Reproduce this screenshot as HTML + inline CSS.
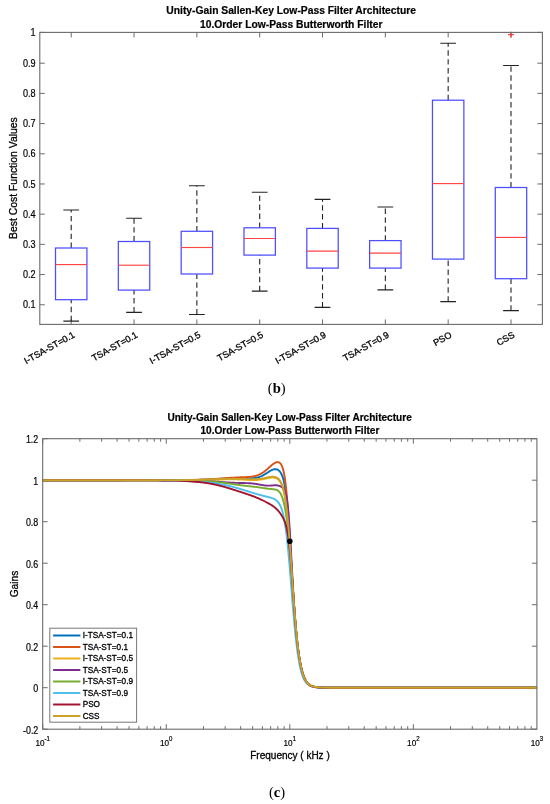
<!DOCTYPE html>
<html><head><meta charset="utf-8"><style>
html,body{margin:0;padding:0;background:#fff;}
svg{display:block;}
text{font-family:"Liberation Sans", Arial, Helvetica, sans-serif;fill:#000;stroke:#000;stroke-width:0.3px;stroke-linejoin:round;}
.ttl{font-weight:bold;font-size:10.3px;text-anchor:middle;stroke-width:0.2px;}
.tk{font-size:9.4px;stroke-width:0.2px;}
.tk2{font-size:10px;}
.xl{font-size:9.2px;}
.yl{font-size:10.2px;}
.lg{font-size:8.2px;}
.cap{font-family:"Liberation Serif","Times New Roman",serif;font-size:14.6px;stroke-width:0;}
</style></head><body>
<svg width="550" height="804" viewBox="0 0 550 804">
<rect width="550" height="804" fill="#fff"/>
<text x="291.2" y="14.2" class="ttl">Unity-Gain Sallen-Key Low-Pass Filter Architecture</text>
<text x="291.2" y="27.7" class="ttl">10.Order Low-Pass Butterworth Filter</text>
<text transform="translate(35.6,308.36) scale(0.91,1)" class="tk" text-anchor="end" style="font-size:10px">0.1</text>
<text transform="translate(35.6,278.16) scale(0.91,1)" class="tk" text-anchor="end" style="font-size:10px">0.2</text>
<text transform="translate(35.6,247.96) scale(0.91,1)" class="tk" text-anchor="end" style="font-size:10px">0.3</text>
<text transform="translate(35.6,217.77) scale(0.91,1)" class="tk" text-anchor="end" style="font-size:10px">0.4</text>
<text transform="translate(35.6,187.57) scale(0.91,1)" class="tk" text-anchor="end" style="font-size:10px">0.5</text>
<text transform="translate(35.6,157.38) scale(0.91,1)" class="tk" text-anchor="end" style="font-size:10px">0.6</text>
<text transform="translate(35.6,127.19) scale(0.91,1)" class="tk" text-anchor="end" style="font-size:10px">0.7</text>
<text transform="translate(35.6,96.99) scale(0.91,1)" class="tk" text-anchor="end" style="font-size:10px">0.8</text>
<text transform="translate(35.6,66.79) scale(0.91,1)" class="tk" text-anchor="end" style="font-size:10px">0.9</text>
<text transform="translate(35.6,36.00) scale(0.91,1)" class="tk" text-anchor="end" style="font-size:10px">1</text>
<path d="M39.8,304.75h5M542.4,304.75h-5M39.8,274.56h5M542.4,274.56h-5M39.8,244.36h5M542.4,244.36h-5M39.8,214.17h5M542.4,214.17h-5M39.8,183.97h5M542.4,183.97h-5M39.8,153.78h5M542.4,153.78h-5M39.8,123.59h5M542.4,123.59h-5M39.8,93.39h5M542.4,93.39h-5M39.8,63.19h5M542.4,63.19h-5M39.8,32.40h5M542.4,32.40h-5M71.21,324.4v-5M71.21,32.4v5M134.04,324.4v-5M134.04,32.4v5M196.86,324.4v-5M196.86,32.4v5M259.69,324.4v-5M259.69,32.4v5M322.51,324.4v-5M322.51,32.4v5M385.34,324.4v-5M385.34,32.4v5M448.16,324.4v-5M448.16,32.4v5M510.99,324.4v-5M510.99,32.4v5" stroke="#6b6b6b" stroke-width="1" fill="none"/>
<path d="M71.21,248V210M71.21,321.1V299.7" stroke="#222" stroke-width="1.1" stroke-dasharray="5.4,3.5" fill="none"/>
<path d="M63.36,210H79.07M63.36,321.1H79.07" stroke="#222" stroke-width="1.1" fill="none"/>
<rect x="55.51" y="248" width="31.41" height="51.70" stroke="#4d4dff" stroke-width="1.25" fill="none"/>
<path d="M55.51,264.6H86.92" stroke="#ff4545" stroke-width="1.15" fill="none"/>
<path d="M134.04,241.5V218.3M134.04,312.4V290.1" stroke="#222" stroke-width="1.1" stroke-dasharray="5.4,3.5" fill="none"/>
<path d="M126.18,218.3H141.89M126.18,312.4H141.89" stroke="#222" stroke-width="1.1" fill="none"/>
<rect x="118.33" y="241.5" width="31.41" height="48.60" stroke="#4d4dff" stroke-width="1.25" fill="none"/>
<path d="M118.33,265.2H149.74" stroke="#ff4545" stroke-width="1.15" fill="none"/>
<path d="M196.86,231.3V185.7M196.86,314.5V274" stroke="#222" stroke-width="1.1" stroke-dasharray="5.4,3.5" fill="none"/>
<path d="M189.01,185.7H204.72M189.01,314.5H204.72" stroke="#222" stroke-width="1.1" fill="none"/>
<rect x="181.16" y="231.3" width="31.41" height="42.70" stroke="#4d4dff" stroke-width="1.25" fill="none"/>
<path d="M181.16,247.5H212.57" stroke="#ff4545" stroke-width="1.15" fill="none"/>
<path d="M259.69,227.8V192.3M259.69,291.1V255.1" stroke="#222" stroke-width="1.1" stroke-dasharray="5.4,3.5" fill="none"/>
<path d="M251.83,192.3H267.54M251.83,291.1H267.54" stroke="#222" stroke-width="1.1" fill="none"/>
<rect x="243.98" y="227.8" width="31.41" height="27.30" stroke="#4d4dff" stroke-width="1.25" fill="none"/>
<path d="M243.98,238.5H275.39" stroke="#ff4545" stroke-width="1.15" fill="none"/>
<path d="M322.51,228.4V199.4M322.51,307.4V268.1" stroke="#222" stroke-width="1.1" stroke-dasharray="5.4,3.5" fill="none"/>
<path d="M314.66,199.4H330.37M314.66,307.4H330.37" stroke="#222" stroke-width="1.1" fill="none"/>
<rect x="306.81" y="228.4" width="31.41" height="39.70" stroke="#4d4dff" stroke-width="1.25" fill="none"/>
<path d="M306.81,251.1H338.22" stroke="#ff4545" stroke-width="1.15" fill="none"/>
<path d="M385.34,240.6V207M385.34,289.9V268.1" stroke="#222" stroke-width="1.1" stroke-dasharray="5.4,3.5" fill="none"/>
<path d="M377.48,207H393.19M377.48,289.9H393.19" stroke="#222" stroke-width="1.1" fill="none"/>
<rect x="369.63" y="240.6" width="31.41" height="27.50" stroke="#4d4dff" stroke-width="1.25" fill="none"/>
<path d="M369.63,253.1H401.04" stroke="#ff4545" stroke-width="1.15" fill="none"/>
<path d="M448.16,100.2V43.2M448.16,301.6V259.1" stroke="#222" stroke-width="1.1" stroke-dasharray="5.4,3.5" fill="none"/>
<path d="M440.31,43.2H456.02M440.31,301.6H456.02" stroke="#222" stroke-width="1.1" fill="none"/>
<rect x="432.46" y="100.2" width="31.41" height="158.90" stroke="#4d4dff" stroke-width="1.25" fill="none"/>
<path d="M432.46,183.6H463.87" stroke="#ff4545" stroke-width="1.15" fill="none"/>
<path d="M510.99,187.5V65.5M510.99,310.6V278.7" stroke="#222" stroke-width="1.1" stroke-dasharray="5.4,3.5" fill="none"/>
<path d="M503.13,65.5H518.84M503.13,310.6H518.84" stroke="#222" stroke-width="1.1" fill="none"/>
<rect x="495.28" y="187.5" width="31.41" height="91.20" stroke="#4d4dff" stroke-width="1.25" fill="none"/>
<path d="M495.28,237.4H526.69" stroke="#ff4545" stroke-width="1.15" fill="none"/>
<path d="M507.99,34.7h6M510.99,31.7v6" stroke="#ff2020" stroke-width="1" fill="none"/>
<rect x="39.8" y="32.4" width="502.60" height="292.00" stroke="#6b6b6b" stroke-width="1.1" fill="none"/>
<text x="75.51" y="336.8" class="xl" text-anchor="end" transform="rotate(-29 75.51 336.8)">I-TSA-ST=0.1</text>
<text x="138.34" y="336.8" class="xl" text-anchor="end" transform="rotate(-29 138.34 336.8)">TSA-ST=0.1</text>
<text x="201.16" y="336.8" class="xl" text-anchor="end" transform="rotate(-29 201.16 336.8)">I-TSA-ST=0.5</text>
<text x="263.99" y="336.8" class="xl" text-anchor="end" transform="rotate(-29 263.99 336.8)">TSA-ST=0.5</text>
<text x="326.81" y="336.8" class="xl" text-anchor="end" transform="rotate(-29 326.81 336.8)">I-TSA-ST=0.9</text>
<text x="389.64" y="336.8" class="xl" text-anchor="end" transform="rotate(-29 389.64 336.8)">TSA-ST=0.9</text>
<text x="452.46" y="336.8" class="xl" text-anchor="end" transform="rotate(-29 452.46 336.8)">PSO</text>
<text x="515.29" y="336.8" class="xl" text-anchor="end" transform="rotate(-29 515.29 336.8)">CSS</text>
<text x="17" y="178.1" class="yl" text-anchor="middle" style="font-size:10.4px" transform="rotate(-90 17 178.1)">Best Cost Function Values</text>
<text x="276.7" y="393" class="cap" text-anchor="middle">(<tspan font-weight="bold">b</tspan>)</text>
<text x="289.6" y="420.5" class="ttl" style="font-size:10.08px">Unity-Gain Sallen-Key Low-Pass Filter Architecture</text>
<text x="289.9" y="433.5" class="ttl" style="font-size:10.1px">10.Order Low-Pass Butterworth Filter</text>
<text transform="translate(38.3,443.20) scale(0.89,1)" class="tk" text-anchor="end" style="font-size:10px">1.2</text>
<text transform="translate(38.3,484.70) scale(0.89,1)" class="tk" text-anchor="end" style="font-size:10px">1</text>
<text transform="translate(38.3,526.20) scale(0.89,1)" class="tk" text-anchor="end" style="font-size:10px">0.8</text>
<text transform="translate(38.3,567.70) scale(0.89,1)" class="tk" text-anchor="end" style="font-size:10px">0.6</text>
<text transform="translate(38.3,609.20) scale(0.89,1)" class="tk" text-anchor="end" style="font-size:10px">0.4</text>
<text transform="translate(38.3,650.70) scale(0.89,1)" class="tk" text-anchor="end" style="font-size:10px">0.2</text>
<text transform="translate(38.3,692.20) scale(0.89,1)" class="tk" text-anchor="end" style="font-size:10px">0</text>
<text transform="translate(38.3,733.70) scale(0.89,1)" class="tk" text-anchor="end" style="font-size:10px">-0.2</text>
<path d="M42.7,438.70h5M536.9,438.70h-5M42.7,480.20h5M536.9,480.20h-5M42.7,521.70h5M536.9,521.70h-5M42.7,563.20h5M536.9,563.20h-5M42.7,604.70h5M536.9,604.70h-5M42.7,646.20h5M536.9,646.20h-5M42.7,687.70h5M536.9,687.70h-5M42.7,729.20h5M536.9,729.20h-5M42.70,729.2v-5M42.70,438.7v5M79.89,729.2v-3M79.89,438.7v3M101.65,729.2v-3M101.65,438.7v3M117.08,729.2v-3M117.08,438.7v3M129.06,729.2v-3M129.06,438.7v3M138.84,729.2v-3M138.84,438.7v3M147.11,729.2v-3M147.11,438.7v3M154.28,729.2v-3M154.28,438.7v3M160.60,729.2v-3M160.60,438.7v3M166.25,729.2v-5M166.25,438.7v5M203.44,729.2v-3M203.44,438.7v3M225.20,729.2v-3M225.20,438.7v3M240.63,729.2v-3M240.63,438.7v3M252.61,729.2v-3M252.61,438.7v3M262.39,729.2v-3M262.39,438.7v3M270.66,729.2v-3M270.66,438.7v3M277.83,729.2v-3M277.83,438.7v3M284.15,729.2v-3M284.15,438.7v3M289.80,729.2v-5M289.80,438.7v5M326.99,729.2v-3M326.99,438.7v3M348.75,729.2v-3M348.75,438.7v3M364.18,729.2v-3M364.18,438.7v3M376.16,729.2v-3M376.16,438.7v3M385.94,729.2v-3M385.94,438.7v3M394.21,729.2v-3M394.21,438.7v3M401.38,729.2v-3M401.38,438.7v3M407.70,729.2v-3M407.70,438.7v3M413.35,729.2v-5M413.35,438.7v5M450.54,729.2v-3M450.54,438.7v3M472.30,729.2v-3M472.30,438.7v3M487.73,729.2v-3M487.73,438.7v3M499.71,729.2v-3M499.71,438.7v3M509.49,729.2v-3M509.49,438.7v3M517.76,729.2v-3M517.76,438.7v3M524.93,729.2v-3M524.93,438.7v3M531.25,729.2v-3M531.25,438.7v3" stroke="#6b6b6b" stroke-width="1" fill="none"/>
<path d="M42.70,480.20L48.70,480.20L54.70,480.20L60.70,480.20L66.70,480.20L72.70,480.20L78.70,480.20L84.70,480.20L90.70,480.20L96.70,480.21L102.70,480.21L108.70,480.21L114.70,480.21L120.70,480.21L126.70,480.21L132.70,480.22L138.70,480.22L144.70,480.22L150.70,480.22L156.70,480.22L162.70,480.21L168.70,480.20L174.70,480.17L180.70,480.14L186.70,480.07L192.70,479.97L198.70,479.83L200.00,479.79L200.50,479.78L201.00,479.76L201.50,479.75L202.00,479.73L202.50,479.71L203.00,479.70L203.50,479.68L204.00,479.66L204.50,479.64L205.00,479.62L205.50,479.60L206.00,479.58L206.50,479.56L207.00,479.54L207.50,479.52L208.00,479.50L208.50,479.47L209.00,479.45L209.50,479.43L210.00,479.40L210.50,479.38L211.00,479.36L211.50,479.33L212.00,479.31L212.50,479.28L213.00,479.25L213.50,479.23L214.00,479.20L214.50,479.17L215.00,479.15L215.50,479.12L216.00,479.09L216.50,479.06L217.00,479.03L217.50,479.00L218.00,478.97L218.50,478.95L219.00,478.92L219.50,478.89L220.00,478.86L220.50,478.83L221.00,478.80L221.50,478.77L222.00,478.74L222.50,478.71L223.00,478.68L223.50,478.65L224.00,478.62L224.50,478.60L225.00,478.57L225.50,478.54L226.00,478.51L226.50,478.49L227.00,478.46L227.50,478.44L228.00,478.41L228.50,478.39L229.00,478.37L229.50,478.34L230.00,478.32L230.50,478.30L231.00,478.28L231.50,478.27L232.00,478.25L232.50,478.24L233.00,478.22L233.50,478.21L234.00,478.20L234.50,478.19L235.00,478.18L235.50,478.17L236.00,478.17L236.50,478.16L237.00,478.16L237.50,478.16L238.00,478.16L238.50,478.16L239.00,478.17L239.50,478.17L240.00,478.18L240.50,478.18L241.00,478.19L241.50,478.20L242.00,478.21L242.50,478.23L243.00,478.24L243.50,478.25L244.00,478.26L244.50,478.28L245.00,478.29L245.50,478.30L246.00,478.32L246.50,478.33L247.00,478.34L247.50,478.35L248.00,478.35L248.50,478.36L249.00,478.36L249.50,478.36L250.00,478.35L250.50,478.34L251.00,478.33L251.50,478.31L252.00,478.29L252.50,478.26L253.00,478.22L253.50,478.18L254.00,478.12L254.50,478.06L255.00,478.00L255.50,477.92L256.00,477.83L256.50,477.73L257.00,477.62L257.50,477.50L258.00,477.37L258.50,477.23L259.00,477.07L259.50,476.90L260.00,476.72L260.50,476.53L261.00,476.32L261.50,476.10L262.00,475.87L262.50,475.62L263.00,475.36L263.50,475.09L264.00,474.81L264.50,474.52L265.00,474.22L265.50,473.91L266.00,473.59L266.50,473.27L267.00,472.94L267.50,472.62L268.00,472.29L268.50,471.97L269.00,471.65L269.50,471.34L270.00,471.03L270.50,470.74L271.00,470.47L271.50,470.21L272.00,469.98L272.50,469.77L273.00,469.58L273.50,469.43L274.00,469.31L274.50,469.23L275.00,469.19L275.50,469.18L276.00,469.23L276.50,469.32L277.00,469.47L277.50,469.67L278.00,469.94L278.50,470.27L279.00,470.68L279.50,471.17L280.00,471.75L280.50,472.44L281.00,473.25L281.50,474.20L282.00,475.32L282.50,476.63L283.00,478.16L283.50,479.95L284.00,482.05L284.50,484.49L285.00,487.33L285.50,490.60L286.00,494.36L286.50,498.64L287.00,503.47L287.50,508.85L288.00,514.79L288.50,521.25L289.00,528.19L289.50,535.54L290.00,543.21L290.50,551.11L291.00,559.14L291.50,567.20L292.00,575.20L292.50,583.05L293.00,590.69L293.50,598.05L294.00,605.09L294.50,611.79L295.00,618.13L295.50,624.08L296.00,629.66L296.50,634.87L297.00,639.71L297.50,644.20L298.00,648.34L298.50,652.16L299.00,655.66L299.50,658.87L300.00,661.80L300.50,664.47L301.00,666.89L301.50,669.08L302.00,671.07L302.50,672.85L303.00,674.46L303.50,675.90L304.00,677.20L304.50,678.35L305.00,679.38L305.50,680.30L306.00,681.12L306.50,681.85L307.00,682.50L307.50,683.08L308.00,683.59L308.50,684.05L309.00,684.45L309.50,684.81L310.00,685.13L310.50,685.41L311.00,685.66L311.50,685.88L312.00,686.08L312.50,686.25L313.00,686.41L313.50,686.55L314.00,686.67L314.50,686.78L315.00,686.88L315.50,686.97L316.00,687.04L316.50,687.11L317.00,687.17L317.50,687.23L318.00,687.28L318.50,687.32L319.00,687.36L319.50,687.40L320.00,687.43L326.00,687.62L332.00,687.68L338.00,687.69L344.00,687.70L350.00,687.70L356.00,687.70L362.00,687.70L368.00,687.70L374.00,687.70L380.00,687.70L386.00,687.70L392.00,687.70L398.00,687.70L404.00,687.70L410.00,687.70L416.00,687.70L422.00,687.70L428.00,687.70L434.00,687.70L440.00,687.70L446.00,687.70L452.00,687.70L458.00,687.70L464.00,687.70L470.00,687.70L476.00,687.70L482.00,687.70L488.00,687.70L494.00,687.70L500.00,687.70L506.00,687.70L512.00,687.70L518.00,687.70L524.00,687.70L530.00,687.70L536.00,687.70L536.90,687.70" stroke="#0072BD" stroke-width="1.9" fill="none" stroke-linejoin="round"/>
<path d="M42.70,480.20L48.70,480.20L54.70,480.20L60.70,480.20L66.70,480.20L72.70,480.20L78.70,480.20L84.70,480.20L90.70,480.20L96.70,480.20L102.70,480.20L108.70,480.20L114.70,480.20L120.70,480.21L126.70,480.21L132.70,480.21L138.70,480.21L144.70,480.20L150.70,480.20L156.70,480.19L162.70,480.18L168.70,480.16L174.70,480.13L180.70,480.08L186.70,480.01L192.70,479.89L198.70,479.73L200.00,479.69L200.50,479.67L201.00,479.65L201.50,479.63L202.00,479.61L202.50,479.59L203.00,479.57L203.50,479.55L204.00,479.53L204.50,479.51L205.00,479.49L205.50,479.47L206.00,479.44L206.50,479.42L207.00,479.40L207.50,479.37L208.00,479.35L208.50,479.32L209.00,479.29L209.50,479.27L210.00,479.24L210.50,479.21L211.00,479.18L211.50,479.16L212.00,479.13L212.50,479.10L213.00,479.07L213.50,479.03L214.00,479.00L214.50,478.97L215.00,478.94L215.50,478.91L216.00,478.87L216.50,478.84L217.00,478.80L217.50,478.77L218.00,478.73L218.50,478.70L219.00,478.66L219.50,478.63L220.00,478.59L220.50,478.55L221.00,478.52L221.50,478.48L222.00,478.44L222.50,478.41L223.00,478.37L223.50,478.33L224.00,478.29L224.50,478.26L225.00,478.22L225.50,478.18L226.00,478.14L226.50,478.11L227.00,478.07L227.50,478.03L228.00,478.00L228.50,477.96L229.00,477.93L229.50,477.89L230.00,477.86L230.50,477.82L231.00,477.79L231.50,477.76L232.00,477.72L232.50,477.69L233.00,477.66L233.50,477.63L234.00,477.60L234.50,477.58L235.00,477.55L235.50,477.52L236.00,477.50L236.50,477.47L237.00,477.45L237.50,477.43L238.00,477.40L238.50,477.38L239.00,477.36L239.50,477.34L240.00,477.32L240.50,477.30L241.00,477.29L241.50,477.27L242.00,477.25L242.50,477.23L243.00,477.22L243.50,477.20L244.00,477.18L244.50,477.16L245.00,477.14L245.50,477.12L246.00,477.10L246.50,477.08L247.00,477.05L247.50,477.02L248.00,476.99L248.50,476.96L249.00,476.92L249.50,476.88L250.00,476.84L250.50,476.79L251.00,476.73L251.50,476.67L252.00,476.60L252.50,476.53L253.00,476.45L253.50,476.36L254.00,476.26L254.50,476.16L255.00,476.04L255.50,475.91L256.00,475.78L256.50,475.63L257.00,475.47L257.50,475.30L258.00,475.11L258.50,474.91L259.00,474.70L259.50,474.47L260.00,474.23L260.50,473.98L261.00,473.71L261.50,473.42L262.00,473.12L262.50,472.80L263.00,472.47L263.50,472.13L264.00,471.77L264.50,471.39L265.00,471.01L265.50,470.61L266.00,470.20L266.50,469.78L267.00,469.35L267.50,468.91L268.00,468.47L268.50,468.02L269.00,467.57L269.50,467.12L270.00,466.67L270.50,466.22L271.00,465.78L271.50,465.35L272.00,464.94L272.50,464.54L273.00,464.15L273.50,463.79L274.00,463.45L274.50,463.14L275.00,462.86L275.50,462.62L276.00,462.42L276.50,462.26L277.00,462.16L277.50,462.11L278.00,462.12L278.50,462.22L279.00,462.39L279.50,462.67L280.00,463.06L280.50,463.58L281.00,464.25L281.50,465.11L282.00,466.18L282.50,467.49L283.00,469.09L283.50,471.01L284.00,473.32L284.50,476.04L285.00,479.24L285.50,482.95L286.00,487.22L286.50,492.06L287.00,497.50L287.50,503.52L288.00,510.11L288.50,517.20L289.00,524.74L289.50,532.64L290.00,540.81L290.50,549.14L291.00,557.53L291.50,565.90L292.00,574.14L292.50,582.19L293.00,589.98L293.50,597.47L294.00,604.62L294.50,611.41L295.00,617.82L295.50,623.84L296.00,629.48L296.50,634.74L297.00,639.62L297.50,644.15L298.00,648.32L298.50,652.17L299.00,655.69L299.50,658.92L300.00,661.86L300.50,664.54L301.00,666.96L301.50,669.16L302.00,671.14L302.50,672.92L303.00,674.52L303.50,675.96L304.00,677.24L304.50,678.39L305.00,679.42L305.50,680.33L306.00,681.14L306.50,681.87L307.00,682.51L307.50,683.08L308.00,683.59L308.50,684.04L309.00,684.44L309.50,684.80L310.00,685.12L310.50,685.40L311.00,685.65L311.50,685.87L312.00,686.07L312.50,686.24L313.00,686.40L313.50,686.54L314.00,686.66L314.50,686.77L315.00,686.87L315.50,686.95L316.00,687.03L316.50,687.10L317.00,687.16L317.50,687.22L318.00,687.27L318.50,687.31L319.00,687.35L319.50,687.39L320.00,687.42L326.00,687.62L332.00,687.68L338.00,687.69L344.00,687.70L350.00,687.70L356.00,687.70L362.00,687.70L368.00,687.70L374.00,687.70L380.00,687.70L386.00,687.70L392.00,687.70L398.00,687.70L404.00,687.70L410.00,687.70L416.00,687.70L422.00,687.70L428.00,687.70L434.00,687.70L440.00,687.70L446.00,687.70L452.00,687.70L458.00,687.70L464.00,687.70L470.00,687.70L476.00,687.70L482.00,687.70L488.00,687.70L494.00,687.70L500.00,687.70L506.00,687.70L512.00,687.70L518.00,687.70L524.00,687.70L530.00,687.70L536.00,687.70L536.90,687.70" stroke="#D95319" stroke-width="1.9" fill="none" stroke-linejoin="round"/>
<path d="M42.70,480.20L48.70,480.20L54.70,480.20L60.70,480.20L66.70,480.20L72.70,480.20L78.70,480.20L84.70,480.20L90.70,480.20L96.70,480.20L102.70,480.20L108.70,480.20L114.70,480.20L120.70,480.20L126.70,480.20L132.70,480.20L138.70,480.20L144.70,480.20L150.70,480.19L156.70,480.19L162.70,480.18L168.70,480.17L174.70,480.15L180.70,480.12L186.70,480.08L192.70,480.03L198.70,479.95L200.00,479.93L200.50,479.92L201.00,479.91L201.50,479.90L202.00,479.89L202.50,479.89L203.00,479.88L203.50,479.87L204.00,479.86L204.50,479.85L205.00,479.84L205.50,479.83L206.00,479.82L206.50,479.81L207.00,479.80L207.50,479.79L208.00,479.78L208.50,479.77L209.00,479.75L209.50,479.74L210.00,479.73L210.50,479.72L211.00,479.71L211.50,479.70L212.00,479.69L212.50,479.67L213.00,479.66L213.50,479.65L214.00,479.64L214.50,479.63L215.00,479.61L215.50,479.60L216.00,479.59L216.50,479.58L217.00,479.56L217.50,479.55L218.00,479.54L218.50,479.53L219.00,479.52L219.50,479.50L220.00,479.49L220.50,479.48L221.00,479.47L221.50,479.46L222.00,479.45L222.50,479.44L223.00,479.43L223.50,479.42L224.00,479.41L224.50,479.40L225.00,479.39L225.50,479.38L226.00,479.38L226.50,479.37L227.00,479.36L227.50,479.36L228.00,479.35L228.50,479.35L229.00,479.34L229.50,479.34L230.00,479.34L230.50,479.34L231.00,479.34L231.50,479.34L232.00,479.34L232.50,479.34L233.00,479.35L233.50,479.35L234.00,479.36L234.50,479.36L235.00,479.37L235.50,479.38L236.00,479.39L236.50,479.40L237.00,479.41L237.50,479.43L238.00,479.44L238.50,479.46L239.00,479.47L239.50,479.49L240.00,479.51L240.50,479.53L241.00,479.55L241.50,479.57L242.00,479.60L242.50,479.62L243.00,479.64L243.50,479.67L244.00,479.69L244.50,479.72L245.00,479.75L245.50,479.77L246.00,479.80L246.50,479.82L247.00,479.85L247.50,479.87L248.00,479.90L248.50,479.92L249.00,479.95L249.50,479.97L250.00,479.99L250.50,480.00L251.00,480.02L251.50,480.03L252.00,480.05L252.50,480.05L253.00,480.06L253.50,480.06L254.00,480.06L254.50,480.05L255.00,480.04L255.50,480.03L256.00,480.01L256.50,479.99L257.00,479.96L257.50,479.93L258.00,479.89L258.50,479.85L259.00,479.80L259.50,479.74L260.00,479.68L260.50,479.61L261.00,479.54L261.50,479.46L262.00,479.38L262.50,479.29L263.00,479.20L263.50,479.10L264.00,479.00L264.50,478.90L265.00,478.79L265.50,478.68L266.00,478.57L266.50,478.46L267.00,478.35L267.50,478.25L268.00,478.14L268.50,478.04L269.00,477.95L269.50,477.86L270.00,477.78L270.50,477.71L271.00,477.65L271.50,477.60L272.00,477.57L272.50,477.56L273.00,477.57L273.50,477.60L274.00,477.65L274.50,477.73L275.00,477.84L275.50,477.99L276.00,478.17L276.50,478.38L277.00,478.65L277.50,478.96L278.00,479.33L278.50,479.77L279.00,480.28L279.50,480.86L280.00,481.54L280.50,482.33L281.00,483.24L281.50,484.29L282.00,485.51L282.50,486.90L283.00,488.51L283.50,490.36L284.00,492.48L284.50,494.90L285.00,497.66L285.50,500.78L286.00,504.30L286.50,508.25L287.00,512.63L287.50,517.46L288.00,522.73L288.50,528.44L289.00,534.55L289.50,541.02L290.00,547.80L290.50,554.82L291.00,562.03L291.50,569.33L292.00,576.66L292.50,583.95L293.00,591.13L293.50,598.15L294.00,604.94L294.50,611.48L295.00,617.73L295.50,623.65L296.00,629.25L296.50,634.50L297.00,639.40L297.50,643.96L298.00,648.17L298.50,652.05L299.00,655.62L299.50,658.87L300.00,661.84L300.50,664.53L301.00,666.97L301.50,669.17L302.00,671.16L302.50,672.94L303.00,674.54L303.50,675.97L304.00,677.25L304.50,678.40L305.00,679.42L305.50,680.33L306.00,681.14L306.50,681.86L307.00,682.50L307.50,683.07L308.00,683.57L308.50,684.02L309.00,684.42L309.50,684.78L310.00,685.10L310.50,685.38L311.00,685.63L311.50,685.85L312.00,686.05L312.50,686.22L313.00,686.38L313.50,686.52L314.00,686.64L314.50,686.75L315.00,686.85L315.50,686.94L316.00,687.02L316.50,687.09L317.00,687.15L317.50,687.21L318.00,687.26L318.50,687.30L319.00,687.34L319.50,687.38L320.00,687.41L326.00,687.62L332.00,687.68L338.00,687.69L344.00,687.70L350.00,687.70L356.00,687.70L362.00,687.70L368.00,687.70L374.00,687.70L380.00,687.70L386.00,687.70L392.00,687.70L398.00,687.70L404.00,687.70L410.00,687.70L416.00,687.70L422.00,687.70L428.00,687.70L434.00,687.70L440.00,687.70L446.00,687.70L452.00,687.70L458.00,687.70L464.00,687.70L470.00,687.70L476.00,687.70L482.00,687.70L488.00,687.70L494.00,687.70L500.00,687.70L506.00,687.70L512.00,687.70L518.00,687.70L524.00,687.70L530.00,687.70L536.00,687.70L536.90,687.70" stroke="#EDB120" stroke-width="1.9" fill="none" stroke-linejoin="round"/>
<path d="M42.70,480.20L48.70,480.20L54.70,480.20L60.70,480.20L66.70,480.20L72.70,480.20L78.70,480.19L84.70,480.19L90.70,480.19L96.70,480.19L102.70,480.19L108.70,480.19L114.70,480.18L120.70,480.18L126.70,480.17L132.70,480.17L138.70,480.17L144.70,480.16L150.70,480.16L156.70,480.16L162.70,480.16L168.70,480.18L174.70,480.21L180.70,480.26L186.70,480.34L192.70,480.46L198.70,480.65L200.00,480.70L200.50,480.72L201.00,480.74L201.50,480.76L202.00,480.78L202.50,480.81L203.00,480.83L203.50,480.85L204.00,480.88L204.50,480.90L205.00,480.93L205.50,480.95L206.00,480.98L206.50,481.00L207.00,481.03L207.50,481.06L208.00,481.09L208.50,481.12L209.00,481.15L209.50,481.18L210.00,481.21L210.50,481.24L211.00,481.27L211.50,481.30L212.00,481.33L212.50,481.37L213.00,481.40L213.50,481.43L214.00,481.47L214.50,481.50L215.00,481.54L215.50,481.57L216.00,481.61L216.50,481.64L217.00,481.68L217.50,481.71L218.00,481.75L218.50,481.79L219.00,481.82L219.50,481.86L220.00,481.90L220.50,481.94L221.00,481.97L221.50,482.01L222.00,482.05L222.50,482.08L223.00,482.12L223.50,482.16L224.00,482.19L224.50,482.23L225.00,482.26L225.50,482.30L226.00,482.33L226.50,482.37L227.00,482.40L227.50,482.43L228.00,482.47L228.50,482.50L229.00,482.53L229.50,482.56L230.00,482.59L230.50,482.62L231.00,482.64L231.50,482.67L232.00,482.69L232.50,482.72L233.00,482.74L233.50,482.76L234.00,482.79L234.50,482.81L235.00,482.83L235.50,482.84L236.00,482.86L236.50,482.88L237.00,482.89L237.50,482.91L238.00,482.92L238.50,482.93L239.00,482.95L239.50,482.96L240.00,482.97L240.50,482.98L241.00,482.99L241.50,483.00L242.00,483.01L242.50,483.02L243.00,483.03L243.50,483.04L244.00,483.05L244.50,483.06L245.00,483.07L245.50,483.08L246.00,483.10L246.50,483.11L247.00,483.13L247.50,483.15L248.00,483.17L248.50,483.20L249.00,483.22L249.50,483.25L250.00,483.29L250.50,483.32L251.00,483.36L251.50,483.40L252.00,483.45L252.50,483.50L253.00,483.55L253.50,483.61L254.00,483.67L254.50,483.73L255.00,483.80L255.50,483.87L256.00,483.95L256.50,484.03L257.00,484.11L257.50,484.20L258.00,484.29L258.50,484.38L259.00,484.47L259.50,484.56L260.00,484.65L260.50,484.74L261.00,484.84L261.50,484.93L262.00,485.02L262.50,485.10L263.00,485.18L263.50,485.26L264.00,485.33L264.50,485.40L265.00,485.46L265.50,485.51L266.00,485.56L266.50,485.60L267.00,485.63L267.50,485.65L268.00,485.66L268.50,485.66L269.00,485.65L269.50,485.64L270.00,485.62L270.50,485.59L271.00,485.56L271.50,485.52L272.00,485.48L272.50,485.43L273.00,485.39L273.50,485.36L274.00,485.32L274.50,485.30L275.00,485.28L275.50,485.28L276.00,485.29L276.50,485.32L277.00,485.37L277.50,485.44L278.00,485.54L278.50,485.65L279.00,485.79L279.50,485.96L280.00,486.16L280.50,486.39L281.00,486.65L281.50,486.96L282.00,487.31L282.50,487.73L283.00,488.22L283.50,488.81L284.00,489.54L284.50,490.44L285.00,491.58L285.50,493.01L286.00,494.83L286.50,497.13L287.00,500.01L287.50,503.58L288.00,507.94L288.50,513.15L289.00,519.26L289.50,526.24L290.00,534.01L290.50,542.45L291.00,551.36L291.50,560.55L292.00,569.81L292.50,578.94L293.00,587.78L293.50,596.21L294.00,604.16L294.50,611.57L295.00,618.43L295.50,624.74L296.00,630.52L296.50,635.80L297.00,640.62L297.50,645.00L298.00,649.00L298.50,652.64L299.00,655.96L299.50,658.99L300.00,661.76L300.50,664.29L301.00,666.61L301.50,668.73L302.00,670.67L302.50,672.44L303.00,674.06L303.50,675.53L304.00,676.87L304.50,678.08L305.00,679.17L305.50,680.16L306.00,681.04L306.50,681.83L307.00,682.53L307.50,683.16L308.00,683.71L308.50,684.20L309.00,684.63L309.50,685.00L310.00,685.34L310.50,685.63L311.00,685.88L311.50,686.11L312.00,686.30L312.50,686.47L313.00,686.62L313.50,686.75L314.00,686.87L314.50,686.97L315.00,687.05L315.50,687.13L316.00,687.20L316.50,687.26L317.00,687.31L317.50,687.36L318.00,687.40L318.50,687.43L319.00,687.46L319.50,687.49L320.00,687.51L326.00,687.65L332.00,687.69L338.00,687.70L344.00,687.70L350.00,687.70L356.00,687.70L362.00,687.70L368.00,687.70L374.00,687.70L380.00,687.70L386.00,687.70L392.00,687.70L398.00,687.70L404.00,687.70L410.00,687.70L416.00,687.70L422.00,687.70L428.00,687.70L434.00,687.70L440.00,687.70L446.00,687.70L452.00,687.70L458.00,687.70L464.00,687.70L470.00,687.70L476.00,687.70L482.00,687.70L488.00,687.70L494.00,687.70L500.00,687.70L506.00,687.70L512.00,687.70L518.00,687.70L524.00,687.70L530.00,687.70L536.00,687.70L536.90,687.70" stroke="#7E2F8E" stroke-width="1.9" fill="none" stroke-linejoin="round"/>
<path d="M42.70,480.20L48.70,480.20L54.70,480.20L60.70,480.20L66.70,480.20L72.70,480.20L78.70,480.19L84.70,480.19L90.70,480.19L96.70,480.19L102.70,480.19L108.70,480.19L114.70,480.18L120.70,480.18L126.70,480.17L132.70,480.17L138.70,480.16L144.70,480.16L150.70,480.15L156.70,480.15L162.70,480.16L168.70,480.17L174.70,480.19L180.70,480.24L186.70,480.33L192.70,480.46L198.70,480.67L200.00,480.72L200.50,480.75L201.00,480.77L201.50,480.79L202.00,480.82L202.50,480.85L203.00,480.87L203.50,480.90L204.00,480.93L204.50,480.96L205.00,480.99L205.50,481.02L206.00,481.05L206.50,481.08L207.00,481.12L207.50,481.15L208.00,481.19L208.50,481.23L209.00,481.26L209.50,481.30L210.00,481.34L210.50,481.38L211.00,481.42L211.50,481.47L212.00,481.51L212.50,481.55L213.00,481.60L213.50,481.65L214.00,481.69L214.50,481.74L215.00,481.79L215.50,481.84L216.00,481.89L216.50,481.95L217.00,482.00L217.50,482.05L218.00,482.11L218.50,482.17L219.00,482.23L219.50,482.28L220.00,482.34L220.50,482.40L221.00,482.47L221.50,482.53L222.00,482.59L222.50,482.66L223.00,482.72L223.50,482.79L224.00,482.85L224.50,482.92L225.00,482.99L225.50,483.06L226.00,483.13L226.50,483.20L227.00,483.27L227.50,483.34L228.00,483.41L228.50,483.48L229.00,483.56L229.50,483.63L230.00,483.70L230.50,483.77L231.00,483.85L231.50,483.92L232.00,483.99L232.50,484.07L233.00,484.14L233.50,484.21L234.00,484.29L234.50,484.36L235.00,484.43L235.50,484.51L236.00,484.58L236.50,484.65L237.00,484.72L237.50,484.79L238.00,484.86L238.50,484.93L239.00,485.00L239.50,485.06L240.00,485.13L240.50,485.20L241.00,485.26L241.50,485.33L242.00,485.39L242.50,485.45L243.00,485.51L243.50,485.58L244.00,485.64L244.50,485.69L245.00,485.75L245.50,485.81L246.00,485.87L246.50,485.92L247.00,485.98L247.50,486.03L248.00,486.09L248.50,486.14L249.00,486.20L249.50,486.25L250.00,486.31L250.50,486.36L251.00,486.41L251.50,486.47L252.00,486.52L252.50,486.58L253.00,486.63L253.50,486.69L254.00,486.75L254.50,486.80L255.00,486.86L255.50,486.92L256.00,486.99L256.50,487.05L257.00,487.11L257.50,487.18L258.00,487.25L258.50,487.32L259.00,487.39L259.50,487.46L260.00,487.53L260.50,487.61L261.00,487.68L261.50,487.76L262.00,487.84L262.50,487.92L263.00,487.99L263.50,488.07L264.00,488.15L264.50,488.22L265.00,488.30L265.50,488.37L266.00,488.45L266.50,488.51L267.00,488.58L267.50,488.65L268.00,488.71L268.50,488.76L269.00,488.82L269.50,488.87L270.00,488.92L270.50,488.96L271.00,489.01L271.50,489.05L272.00,489.09L272.50,489.13L273.00,489.18L273.50,489.24L274.00,489.30L274.50,489.38L275.00,489.47L275.50,489.58L276.00,489.72L276.50,489.90L277.00,490.11L277.50,490.38L278.00,490.70L278.50,491.09L279.00,491.56L279.50,492.12L280.00,492.78L280.50,493.55L281.00,494.46L281.50,495.52L282.00,496.73L282.50,498.13L283.00,499.71L283.50,501.51L284.00,503.53L284.50,505.79L285.00,508.31L285.50,511.11L286.00,514.20L286.50,517.59L287.00,521.30L287.50,525.33L288.00,529.71L288.50,534.43L289.00,539.49L289.50,544.90L290.00,550.64L290.50,556.68L291.00,563.00L291.50,569.56L292.00,576.30L292.50,583.16L293.00,590.07L293.50,596.97L294.00,603.76L294.50,610.39L295.00,616.80L295.50,622.92L296.00,628.73L296.50,634.18L297.00,639.27L297.50,643.98L298.00,648.31L298.50,652.28L299.00,655.90L299.50,659.19L300.00,662.16L300.50,664.84L301.00,667.26L301.50,669.43L302.00,671.38L302.50,673.13L303.00,674.69L303.50,676.09L304.00,677.34L304.50,678.45L305.00,679.45L305.50,680.34L306.00,681.13L306.50,681.84L307.00,682.47L307.50,683.04L308.00,683.54L308.50,683.99L309.00,684.39L309.50,684.74L310.00,685.06L310.50,685.34L311.00,685.60L311.50,685.82L312.00,686.02L312.50,686.20L313.00,686.36L313.50,686.51L314.00,686.63L314.50,686.75L315.00,686.85L315.50,686.94L316.00,687.02L316.50,687.09L317.00,687.16L317.50,687.21L318.00,687.26L318.50,687.31L319.00,687.35L319.50,687.39L320.00,687.42L326.00,687.62L332.00,687.68L338.00,687.69L344.00,687.70L350.00,687.70L356.00,687.70L362.00,687.70L368.00,687.70L374.00,687.70L380.00,687.70L386.00,687.70L392.00,687.70L398.00,687.70L404.00,687.70L410.00,687.70L416.00,687.70L422.00,687.70L428.00,687.70L434.00,687.70L440.00,687.70L446.00,687.70L452.00,687.70L458.00,687.70L464.00,687.70L470.00,687.70L476.00,687.70L482.00,687.70L488.00,687.70L494.00,687.70L500.00,687.70L506.00,687.70L512.00,687.70L518.00,687.70L524.00,687.70L530.00,687.70L536.00,687.70L536.90,687.70" stroke="#77AC30" stroke-width="1.9" fill="none" stroke-linejoin="round"/>
<path d="M42.70,480.20L48.70,480.20L54.70,480.20L60.70,480.21L66.70,480.21L72.70,480.21L78.70,480.21L84.70,480.21L90.70,480.22L96.70,480.22L102.70,480.22L108.70,480.23L114.70,480.24L120.70,480.25L126.70,480.26L132.70,480.28L138.70,480.30L144.70,480.33L150.70,480.36L156.70,480.41L162.70,480.47L168.70,480.56L174.70,480.67L180.70,480.81L186.70,481.01L192.70,481.27L198.70,481.63L200.00,481.72L200.50,481.76L201.00,481.80L201.50,481.84L202.00,481.88L202.50,481.92L203.00,481.96L203.50,482.00L204.00,482.04L204.50,482.09L205.00,482.13L205.50,482.18L206.00,482.23L206.50,482.28L207.00,482.33L207.50,482.38L208.00,482.43L208.50,482.49L209.00,482.54L209.50,482.60L210.00,482.65L210.50,482.71L211.00,482.77L211.50,482.83L212.00,482.90L212.50,482.96L213.00,483.02L213.50,483.09L214.00,483.16L214.50,483.23L215.00,483.30L215.50,483.37L216.00,483.45L216.50,483.52L217.00,483.60L217.50,483.68L218.00,483.76L218.50,483.84L219.00,483.92L219.50,484.01L220.00,484.09L220.50,484.18L221.00,484.27L221.50,484.36L222.00,484.46L222.50,484.55L223.00,484.65L223.50,484.74L224.00,484.84L224.50,484.95L225.00,485.05L225.50,485.15L226.00,485.26L226.50,485.37L227.00,485.48L227.50,485.59L228.00,485.70L228.50,485.82L229.00,485.93L229.50,486.05L230.00,486.17L230.50,486.29L231.00,486.42L231.50,486.54L232.00,486.67L232.50,486.79L233.00,486.92L233.50,487.05L234.00,487.19L234.50,487.32L235.00,487.45L235.50,487.59L236.00,487.73L236.50,487.87L237.00,488.01L237.50,488.15L238.00,488.29L238.50,488.44L239.00,488.58L239.50,488.73L240.00,488.88L240.50,489.02L241.00,489.17L241.50,489.32L242.00,489.47L242.50,489.63L243.00,489.78L243.50,489.93L244.00,490.09L244.50,490.24L245.00,490.40L245.50,490.55L246.00,490.71L246.50,490.87L247.00,491.02L247.50,491.18L248.00,491.34L248.50,491.49L249.00,491.65L249.50,491.81L250.00,491.97L250.50,492.12L251.00,492.28L251.50,492.44L252.00,492.59L252.50,492.75L253.00,492.90L253.50,493.06L254.00,493.21L254.50,493.36L255.00,493.51L255.50,493.66L256.00,493.81L256.50,493.96L257.00,494.11L257.50,494.25L258.00,494.40L258.50,494.54L259.00,494.68L259.50,494.82L260.00,494.96L260.50,495.10L261.00,495.23L261.50,495.37L262.00,495.50L262.50,495.63L263.00,495.75L263.50,495.88L264.00,496.01L264.50,496.13L265.00,496.25L265.50,496.37L266.00,496.49L266.50,496.61L267.00,496.74L267.50,496.86L268.00,496.98L268.50,497.10L269.00,497.23L269.50,497.36L270.00,497.50L270.50,497.64L271.00,497.79L271.50,497.94L272.00,498.11L272.50,498.29L273.00,498.48L273.50,498.70L274.00,498.93L274.50,499.18L275.00,499.47L275.50,499.78L276.00,500.14L276.50,500.53L277.00,500.98L277.50,501.47L278.00,502.04L278.50,502.67L279.00,503.39L279.50,504.20L280.00,505.11L280.50,506.15L281.00,507.32L281.50,508.64L282.00,510.13L282.50,511.81L283.00,513.70L283.50,515.83L284.00,518.20L284.50,520.85L285.00,523.79L285.50,527.05L286.00,530.63L286.50,534.55L287.00,538.81L287.50,543.41L288.00,548.34L288.50,553.58L289.00,559.10L289.50,564.87L290.00,570.83L290.50,576.95L291.00,583.17L291.50,589.43L292.00,595.67L292.50,601.85L293.00,607.91L293.50,613.81L294.00,619.52L294.50,624.99L295.00,630.20L295.50,635.14L296.00,639.79L296.50,644.14L297.00,648.20L297.50,651.97L298.00,655.45L298.50,658.65L299.00,661.58L299.50,664.26L300.00,666.70L300.50,668.91L301.00,670.91L301.50,672.71L302.00,674.34L302.50,675.79L303.00,677.10L303.50,678.27L304.00,679.32L304.50,680.25L305.00,681.08L305.50,681.82L306.00,682.48L306.50,683.07L307.00,683.58L307.50,684.05L308.00,684.46L308.50,684.82L309.00,685.14L309.50,685.43L310.00,685.68L310.50,685.91L311.00,686.10L311.50,686.28L312.00,686.44L312.50,686.58L313.00,686.70L313.50,686.81L314.00,686.91L314.50,686.99L315.00,687.07L315.50,687.14L316.00,687.20L316.50,687.25L317.00,687.30L317.50,687.34L318.00,687.38L318.50,687.42L319.00,687.45L319.50,687.47L320.00,687.50L326.00,687.65L332.00,687.68L338.00,687.70L344.00,687.70L350.00,687.70L356.00,687.70L362.00,687.70L368.00,687.70L374.00,687.70L380.00,687.70L386.00,687.70L392.00,687.70L398.00,687.70L404.00,687.70L410.00,687.70L416.00,687.70L422.00,687.70L428.00,687.70L434.00,687.70L440.00,687.70L446.00,687.70L452.00,687.70L458.00,687.70L464.00,687.70L470.00,687.70L476.00,687.70L482.00,687.70L488.00,687.70L494.00,687.70L500.00,687.70L506.00,687.70L512.00,687.70L518.00,687.70L524.00,687.70L530.00,687.70L536.00,687.70L536.90,687.70" stroke="#4DBEEE" stroke-width="1.9" fill="none" stroke-linejoin="round"/>
<path d="M42.70,480.20L48.70,480.20L54.70,480.20L60.70,480.20L66.70,480.20L72.70,480.20L78.70,480.20L84.70,480.21L90.70,480.21L96.70,480.21L102.70,480.21L108.70,480.22L114.70,480.22L120.70,480.23L126.70,480.24L132.70,480.25L138.70,480.26L144.70,480.29L150.70,480.32L156.70,480.36L162.70,480.43L168.70,480.52L174.70,480.65L180.70,480.84L186.70,481.11L192.70,481.49L198.70,482.03L200.00,482.16L200.50,482.22L201.00,482.28L201.50,482.34L202.00,482.40L202.50,482.46L203.00,482.52L203.50,482.59L204.00,482.65L204.50,482.72L205.00,482.79L205.50,482.86L206.00,482.94L206.50,483.01L207.00,483.09L207.50,483.17L208.00,483.25L208.50,483.33L209.00,483.41L209.50,483.50L210.00,483.59L210.50,483.68L211.00,483.77L211.50,483.86L212.00,483.95L212.50,484.05L213.00,484.15L213.50,484.25L214.00,484.35L214.50,484.46L215.00,484.56L215.50,484.67L216.00,484.78L216.50,484.89L217.00,485.01L217.50,485.12L218.00,485.24L218.50,485.36L219.00,485.48L219.50,485.61L220.00,485.73L220.50,485.86L221.00,485.99L221.50,486.12L222.00,486.25L222.50,486.38L223.00,486.52L223.50,486.66L224.00,486.79L224.50,486.94L225.00,487.08L225.50,487.22L226.00,487.36L226.50,487.51L227.00,487.66L227.50,487.81L228.00,487.96L228.50,488.11L229.00,488.26L229.50,488.41L230.00,488.57L230.50,488.72L231.00,488.88L231.50,489.03L232.00,489.19L232.50,489.35L233.00,489.51L233.50,489.67L234.00,489.83L234.50,489.99L235.00,490.15L235.50,490.31L236.00,490.47L236.50,490.63L237.00,490.79L237.50,490.95L238.00,491.12L238.50,491.28L239.00,491.44L239.50,491.60L240.00,491.76L240.50,491.93L241.00,492.09L241.50,492.25L242.00,492.42L242.50,492.58L243.00,492.74L243.50,492.90L244.00,493.07L244.50,493.23L245.00,493.40L245.50,493.56L246.00,493.73L246.50,493.89L247.00,494.06L247.50,494.23L248.00,494.40L248.50,494.57L249.00,494.74L249.50,494.91L250.00,495.09L250.50,495.26L251.00,495.44L251.50,495.62L252.00,495.80L252.50,495.99L253.00,496.17L253.50,496.36L254.00,496.55L254.50,496.75L255.00,496.95L255.50,497.15L256.00,497.35L256.50,497.55L257.00,497.76L257.50,497.98L258.00,498.19L258.50,498.41L259.00,498.63L259.50,498.86L260.00,499.08L260.50,499.31L261.00,499.55L261.50,499.78L262.00,500.02L262.50,500.26L263.00,500.51L263.50,500.75L264.00,501.00L264.50,501.25L265.00,501.51L265.50,501.76L266.00,502.02L266.50,502.28L267.00,502.54L267.50,502.81L268.00,503.08L268.50,503.35L269.00,503.63L269.50,503.91L270.00,504.20L270.50,504.49L271.00,504.79L271.50,505.10L272.00,505.42L272.50,505.75L273.00,506.09L273.50,506.45L274.00,506.82L274.50,507.21L275.00,507.62L275.50,508.05L276.00,508.50L276.50,508.97L277.00,509.47L277.50,509.99L278.00,510.54L278.50,511.11L279.00,511.72L279.50,512.36L280.00,513.02L280.50,513.73L281.00,514.46L281.50,515.24L282.00,516.06L282.50,516.93L283.00,517.85L283.50,518.85L284.00,519.93L284.50,521.12L285.00,522.44L285.50,523.92L286.00,525.60L286.50,527.53L287.00,529.76L287.50,532.34L288.00,535.34L288.50,538.80L289.00,542.79L289.50,547.32L290.00,552.41L290.50,558.04L291.00,564.17L291.50,570.70L292.00,577.55L292.50,584.58L293.00,591.67L293.50,598.71L294.00,605.59L294.50,612.22L295.00,618.54L295.50,624.50L296.00,630.08L296.50,635.27L297.00,640.08L297.50,644.51L298.00,648.58L298.50,652.31L299.00,655.73L299.50,658.85L300.00,661.70L300.50,664.30L301.00,666.68L301.50,668.83L302.00,670.80L302.50,672.58L303.00,674.20L303.50,675.66L304.00,676.99L304.50,678.18L305.00,679.25L305.50,680.21L306.00,681.07L306.50,681.84L307.00,682.52L307.50,683.13L308.00,683.67L308.50,684.15L309.00,684.57L309.50,684.95L310.00,685.28L310.50,685.57L311.00,685.82L311.50,686.05L312.00,686.24L312.50,686.42L313.00,686.57L313.50,686.70L314.00,686.82L314.50,686.92L315.00,687.02L315.50,687.10L316.00,687.17L316.50,687.23L317.00,687.28L317.50,687.33L318.00,687.37L318.50,687.41L319.00,687.44L319.50,687.47L320.00,687.50L326.00,687.65L332.00,687.69L338.00,687.70L344.00,687.70L350.00,687.70L356.00,687.70L362.00,687.70L368.00,687.70L374.00,687.70L380.00,687.70L386.00,687.70L392.00,687.70L398.00,687.70L404.00,687.70L410.00,687.70L416.00,687.70L422.00,687.70L428.00,687.70L434.00,687.70L440.00,687.70L446.00,687.70L452.00,687.70L458.00,687.70L464.00,687.70L470.00,687.70L476.00,687.70L482.00,687.70L488.00,687.70L494.00,687.70L500.00,687.70L506.00,687.70L512.00,687.70L518.00,687.70L524.00,687.70L530.00,687.70L536.00,687.70L536.90,687.70" stroke="#A2142F" stroke-width="1.9" fill="none" stroke-linejoin="round"/>
<path d="M42.70,480.20L48.70,480.20L54.70,480.20L60.70,480.20L66.70,480.20L72.70,480.20L78.70,480.20L84.70,480.20L90.70,480.20L96.70,480.20L102.70,480.20L108.70,480.20L114.70,480.20L120.70,480.20L126.70,480.20L132.70,480.20L138.70,480.20L144.70,480.19L150.70,480.19L156.70,480.18L162.70,480.17L168.70,480.16L174.70,480.13L180.70,480.09L186.70,480.04L192.70,479.96L198.70,479.85L200.00,479.82L200.50,479.81L201.00,479.79L201.50,479.78L202.00,479.77L202.50,479.76L203.00,479.74L203.50,479.73L204.00,479.72L204.50,479.70L205.00,479.69L205.50,479.67L206.00,479.66L206.50,479.64L207.00,479.63L207.50,479.61L208.00,479.60L208.50,479.58L209.00,479.56L209.50,479.55L210.00,479.53L210.50,479.51L211.00,479.49L211.50,479.48L212.00,479.46L212.50,479.44L213.00,479.42L213.50,479.40L214.00,479.39L214.50,479.37L215.00,479.35L215.50,479.33L216.00,479.31L216.50,479.29L217.00,479.27L217.50,479.25L218.00,479.23L218.50,479.21L219.00,479.19L219.50,479.18L220.00,479.16L220.50,479.14L221.00,479.12L221.50,479.10L222.00,479.08L222.50,479.06L223.00,479.05L223.50,479.03L224.00,479.01L224.50,478.99L225.00,478.98L225.50,478.96L226.00,478.95L226.50,478.93L227.00,478.92L227.50,478.91L228.00,478.89L228.50,478.88L229.00,478.87L229.50,478.86L230.00,478.85L230.50,478.84L231.00,478.83L231.50,478.83L232.00,478.82L232.50,478.82L233.00,478.81L233.50,478.81L234.00,478.81L234.50,478.81L235.00,478.81L235.50,478.81L236.00,478.81L236.50,478.82L237.00,478.82L237.50,478.83L238.00,478.84L238.50,478.85L239.00,478.86L239.50,478.87L240.00,478.89L240.50,478.90L241.00,478.91L241.50,478.93L242.00,478.95L242.50,478.97L243.00,478.99L243.50,479.01L244.00,479.03L244.50,479.05L245.00,479.07L245.50,479.09L246.00,479.11L246.50,479.13L247.00,479.15L247.50,479.18L248.00,479.20L248.50,479.22L249.00,479.24L249.50,479.25L250.00,479.27L250.50,479.28L251.00,479.30L251.50,479.31L252.00,479.31L252.50,479.32L253.00,479.32L253.50,479.32L254.00,479.32L254.50,479.31L255.00,479.30L255.50,479.28L256.00,479.26L256.50,479.23L257.00,479.20L257.50,479.17L258.00,479.12L258.50,479.08L259.00,479.03L259.50,478.97L260.00,478.91L260.50,478.84L261.00,478.76L261.50,478.68L262.00,478.60L262.50,478.51L263.00,478.41L263.50,478.31L264.00,478.21L264.50,478.11L265.00,478.00L265.50,477.89L266.00,477.78L266.50,477.66L267.00,477.55L267.50,477.44L268.00,477.34L268.50,477.23L269.00,477.14L269.50,477.05L270.00,476.97L270.50,476.89L271.00,476.83L271.50,476.79L272.00,476.76L272.50,476.75L273.00,476.75L273.50,476.78L274.00,476.83L274.50,476.91L275.00,477.02L275.50,477.17L276.00,477.35L276.50,477.57L277.00,477.83L277.50,478.15L278.00,478.52L278.50,478.95L279.00,479.46L279.50,480.05L280.00,480.73L280.50,481.52L281.00,482.44L281.50,483.49L282.00,484.71L282.50,486.11L283.00,487.73L283.50,489.58L284.00,491.71L284.50,494.14L285.00,496.91L285.50,500.04L286.00,503.58L286.50,507.54L287.00,511.93L287.50,516.78L288.00,522.08L288.50,527.81L289.00,533.94L289.50,540.44L290.00,547.24L290.50,554.30L291.00,561.53L291.50,568.86L292.00,576.22L292.50,583.54L293.00,590.75L293.50,597.79L294.00,604.61L294.50,611.18L295.00,617.45L295.50,623.40L296.00,629.02L296.50,634.29L297.00,639.21L297.50,643.78L298.00,648.01L298.50,651.91L299.00,655.49L299.50,658.76L300.00,661.74L300.50,664.44L301.00,666.89L301.50,669.10L302.00,671.09L302.50,672.88L303.00,674.49L303.50,675.93L304.00,677.21L304.50,678.36L305.00,679.38L305.50,680.30L306.00,681.11L306.50,681.83L307.00,682.48L307.50,683.05L308.00,683.56L308.50,684.01L309.00,684.41L309.50,684.77L310.00,685.08L310.50,685.37L311.00,685.62L311.50,685.84L312.00,686.04L312.50,686.22L313.00,686.37L313.50,686.51L314.00,686.64L314.50,686.75L315.00,686.85L315.50,686.94L316.00,687.02L316.50,687.09L317.00,687.15L317.50,687.21L318.00,687.26L318.50,687.30L319.00,687.34L319.50,687.38L320.00,687.41L326.00,687.62L332.00,687.68L338.00,687.69L344.00,687.70L350.00,687.70L356.00,687.70L362.00,687.70L368.00,687.70L374.00,687.70L380.00,687.70L386.00,687.70L392.00,687.70L398.00,687.70L404.00,687.70L410.00,687.70L416.00,687.70L422.00,687.70L428.00,687.70L434.00,687.70L440.00,687.70L446.00,687.70L452.00,687.70L458.00,687.70L464.00,687.70L470.00,687.70L476.00,687.70L482.00,687.70L488.00,687.70L494.00,687.70L500.00,687.70L506.00,687.70L512.00,687.70L518.00,687.70L524.00,687.70L530.00,687.70L536.00,687.70L536.90,687.70" stroke="#C9A227" stroke-width="1.9" fill="none" stroke-linejoin="round"/>
<circle cx="289.8" cy="541.2" r="2.8" fill="#000"/>
<rect x="42.7" y="438.7" width="494.20" height="290.50" stroke="#6b6b6b" stroke-width="1.1" fill="none"/>
<rect x="49.8" y="628.2" width="86.8" height="94" stroke="#777" stroke-width="1" fill="#fff"/>
<path d="M53.1,635.50H80.4" stroke="#0072BD" stroke-width="2"/>
<text x="82.7" y="638.40" class="lg">I-TSA-ST=0.1</text>
<path d="M53.1,647.00H80.4" stroke="#D95319" stroke-width="2"/>
<text x="82.7" y="649.90" class="lg">TSA-ST=0.1</text>
<path d="M53.1,658.50H80.4" stroke="#EDB120" stroke-width="2"/>
<text x="82.7" y="661.40" class="lg">I-TSA-ST=0.5</text>
<path d="M53.1,670.00H80.4" stroke="#7E2F8E" stroke-width="2"/>
<text x="82.7" y="672.90" class="lg">TSA-ST=0.5</text>
<path d="M53.1,681.50H80.4" stroke="#77AC30" stroke-width="2"/>
<text x="82.7" y="684.40" class="lg">I-TSA-ST=0.9</text>
<path d="M53.1,693.00H80.4" stroke="#4DBEEE" stroke-width="2"/>
<text x="82.7" y="695.90" class="lg">TSA-ST=0.9</text>
<path d="M53.1,704.50H80.4" stroke="#A2142F" stroke-width="2"/>
<text x="82.7" y="707.40" class="lg">PSO</text>
<path d="M53.1,716.00H80.4" stroke="#C9A227" stroke-width="2"/>
<text x="82.7" y="718.90" class="lg">CSS</text>
<text transform="translate(42.70,745.7) scale(0.88,1)" class="tk" text-anchor="middle" style="font-size:9.3px">10<tspan dy="-4.8" style="font-size:6.9px">-1</tspan></text>
<text transform="translate(166.25,745.7) scale(0.88,1)" class="tk" text-anchor="middle" style="font-size:9.3px">10<tspan dy="-4.8" style="font-size:6.9px">0</tspan></text>
<text transform="translate(289.80,745.7) scale(0.88,1)" class="tk" text-anchor="middle" style="font-size:9.3px">10<tspan dy="-4.8" style="font-size:6.9px">1</tspan></text>
<text transform="translate(413.35,745.7) scale(0.88,1)" class="tk" text-anchor="middle" style="font-size:9.3px">10<tspan dy="-4.8" style="font-size:6.9px">2</tspan></text>
<text transform="translate(536.90,745.7) scale(0.88,1)" class="tk" text-anchor="middle" style="font-size:9.3px">10<tspan dy="-4.8" style="font-size:6.9px">3</tspan></text>
<text x="290" y="759.1" class="tk2" text-anchor="middle">Frequency ( kHz )</text>
<text x="17.5" y="584" class="yl" text-anchor="middle" transform="rotate(-90 17.5 584)">Gains</text>
<text x="277" y="796.7" class="cap" text-anchor="middle">(<tspan font-weight="bold">c</tspan>)</text>
</svg></body></html>
